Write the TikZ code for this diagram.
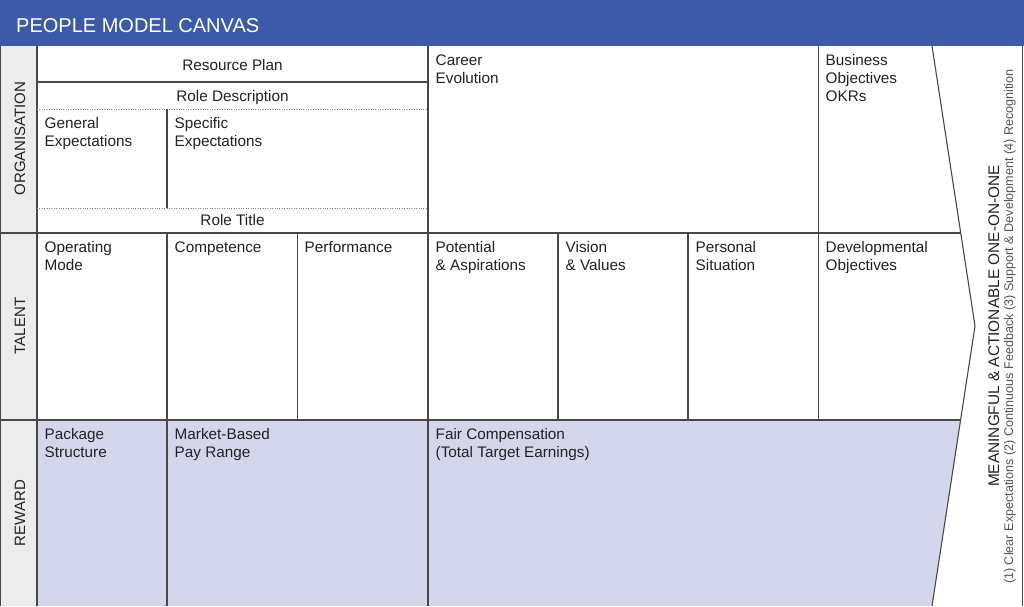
\documentclass[tikz,border=0pt]{standalone}
\usepackage{fontspec}
\setmainfont{Liberation Sans}
\definecolor{hdr}{RGB}{59,91,168}
\definecolor{lav}{RGB}{212,215,235}
\definecolor{lbl}{RGB}{236,236,236}
\definecolor{ln}{RGB}{72,72,72}
\definecolor{txt}{RGB}{34,34,34}
\definecolor{sub}{RGB}{85,85,85}
\newcommand{\cstrut}{\rule{0pt}{14pt}}
\begin{document}
\begin{tikzpicture}[x=1pt,y=-1pt,
  grid/.style={draw=ln,line width=1.1pt},
  dots/.style={draw=gray,line width=0.8pt,dash pattern=on 0.8pt off 1.6pt},
  celltext/.style={anchor=north west,inner sep=0pt,align=left,text=txt,font=\fontsize{15.3}{18}\selectfont},
  ctext/.style={anchor=base,inner sep=0pt,text=txt,font=\fontsize{15.3}{18}\selectfont},
  rowlab/.style={anchor=base,rotate=90,inner sep=0pt,text=txt,font=\fontsize{15}{18}\selectfont},
]
\useasboundingbox (0,0) rectangle (1024,606);
\fill[white] (0,0) rectangle (1024,606);
% header
\fill[hdr] (0,0) rectangle (1024,46);
\node[anchor=base west,inner sep=0pt,text=white,font=\fontsize{20}{24}\selectfont] (title) at (16,32.7) {PEOPLE MODEL CANVAS};
% fills
\fill[lbl] (0,46) rectangle (37,606);
\coordinate (chtop) at (932,46);
\coordinate (chtip) at (975,326);
\coordinate (chbot) at (932,606);
\coordinate (chA) at (960.7,233);
\coordinate (chB) at (960.7,420);
\fill[lav] (37,420) -- (chB) -- (chbot) -- (37,606) -- cycle;
% grid lines
\draw[grid] (0.6,46) -- (0.6,606);
\draw[grid] (1022.5,46) -- (1022.5,606);
\draw[grid] (37,46) -- (37,606);
\draw[grid] (chtop) -- (chtip) -- (chbot);
\draw[grid] (0,233) -- (chA);
\draw[grid] (0,420) -- (chB);
\draw[grid] (37,82) -- (428,82);
\draw[dots] (37,109) -- (428,109);
\draw[dots] (37,208) -- (428,208);
\draw[grid] (167,109) -- (167,208);
\draw[grid] (167,233) -- (167,606);
\draw[grid] (297.5,233) -- (297.5,420);
\draw[grid] (428,46) -- (428,606);
\draw[grid] (558,233) -- (558,420);
\draw[grid] (688,233) -- (688,420);
\draw[grid] (818.5,46) -- (818.5,420);
% row labels
\node[rowlab] (lorg) at (25,138.5) {ORGANISATION};
\node[rowlab] (ltal) at (25,326) {TALENT};
\node[rowlab] (lrew) at (25,513) {REWARD};
% organisation
\node[ctext] (resplan) at (232.5,70) {Resource Plan};
\node[ctext] (roledesc) at (232.5,101) {Role Description};
\node[ctext] (roletitle) at (232.5,225.5) {Role Title};
\node[celltext] (genexp) at (44.5,114) {\cstrut General\\Expectations};
\node[celltext] (specexp) at (174.5,114) {\cstrut Specific\\Expectations};
\node[celltext] (career) at (435.5,51) {\cstrut Career\\Evolution};
\node[celltext] (busobj) at (825.5,51) {\cstrut Business\\Objectives\\OKRs};
% talent
\node[celltext] (opmode) at (44.5,238) {\cstrut Operating\\Mode};
\node[celltext] (comp) at (174.5,238) {\cstrut Competence};
\node[celltext] (perf) at (304.5,238) {\cstrut Performance};
\node[celltext] (pot) at (435.5,238) {\cstrut Potential\\\& Aspirations};
\node[celltext] (vis) at (565.5,238) {\cstrut Vision\\\& Values};
\node[celltext] (pers) at (695.5,238) {\cstrut Personal\\Situation};
\node[celltext] (devobj) at (825.5,238) {\cstrut Developmental\\Objectives};
% reward
\node[celltext] (pack) at (44.5,425) {\cstrut Package\\Structure};
\node[celltext] (market) at (174.5,425) {\cstrut Market-Based\\Pay Range};
\node[celltext] (fair) at (435.5,425) {\cstrut Fair Compensation\\(Total Target Earnings)};
% right side
\node[anchor=base,rotate=90,inner sep=0pt,text=txt,font=\fontsize{15.4}{18}\selectfont] (mao) at (999,326) {MEANINGFUL \& ACTIONABLE ONE-ON-ONE};
\node[anchor=base,rotate=90,inner sep=0pt,text=sub,font=\fontsize{12.6}{15}\selectfont] (steps) at (1013,326.5) {(1) Clear Expectations (2) Continuous Feedback (3) Support \& Development (4) Recognition};
\end{tikzpicture}
\end{document}
